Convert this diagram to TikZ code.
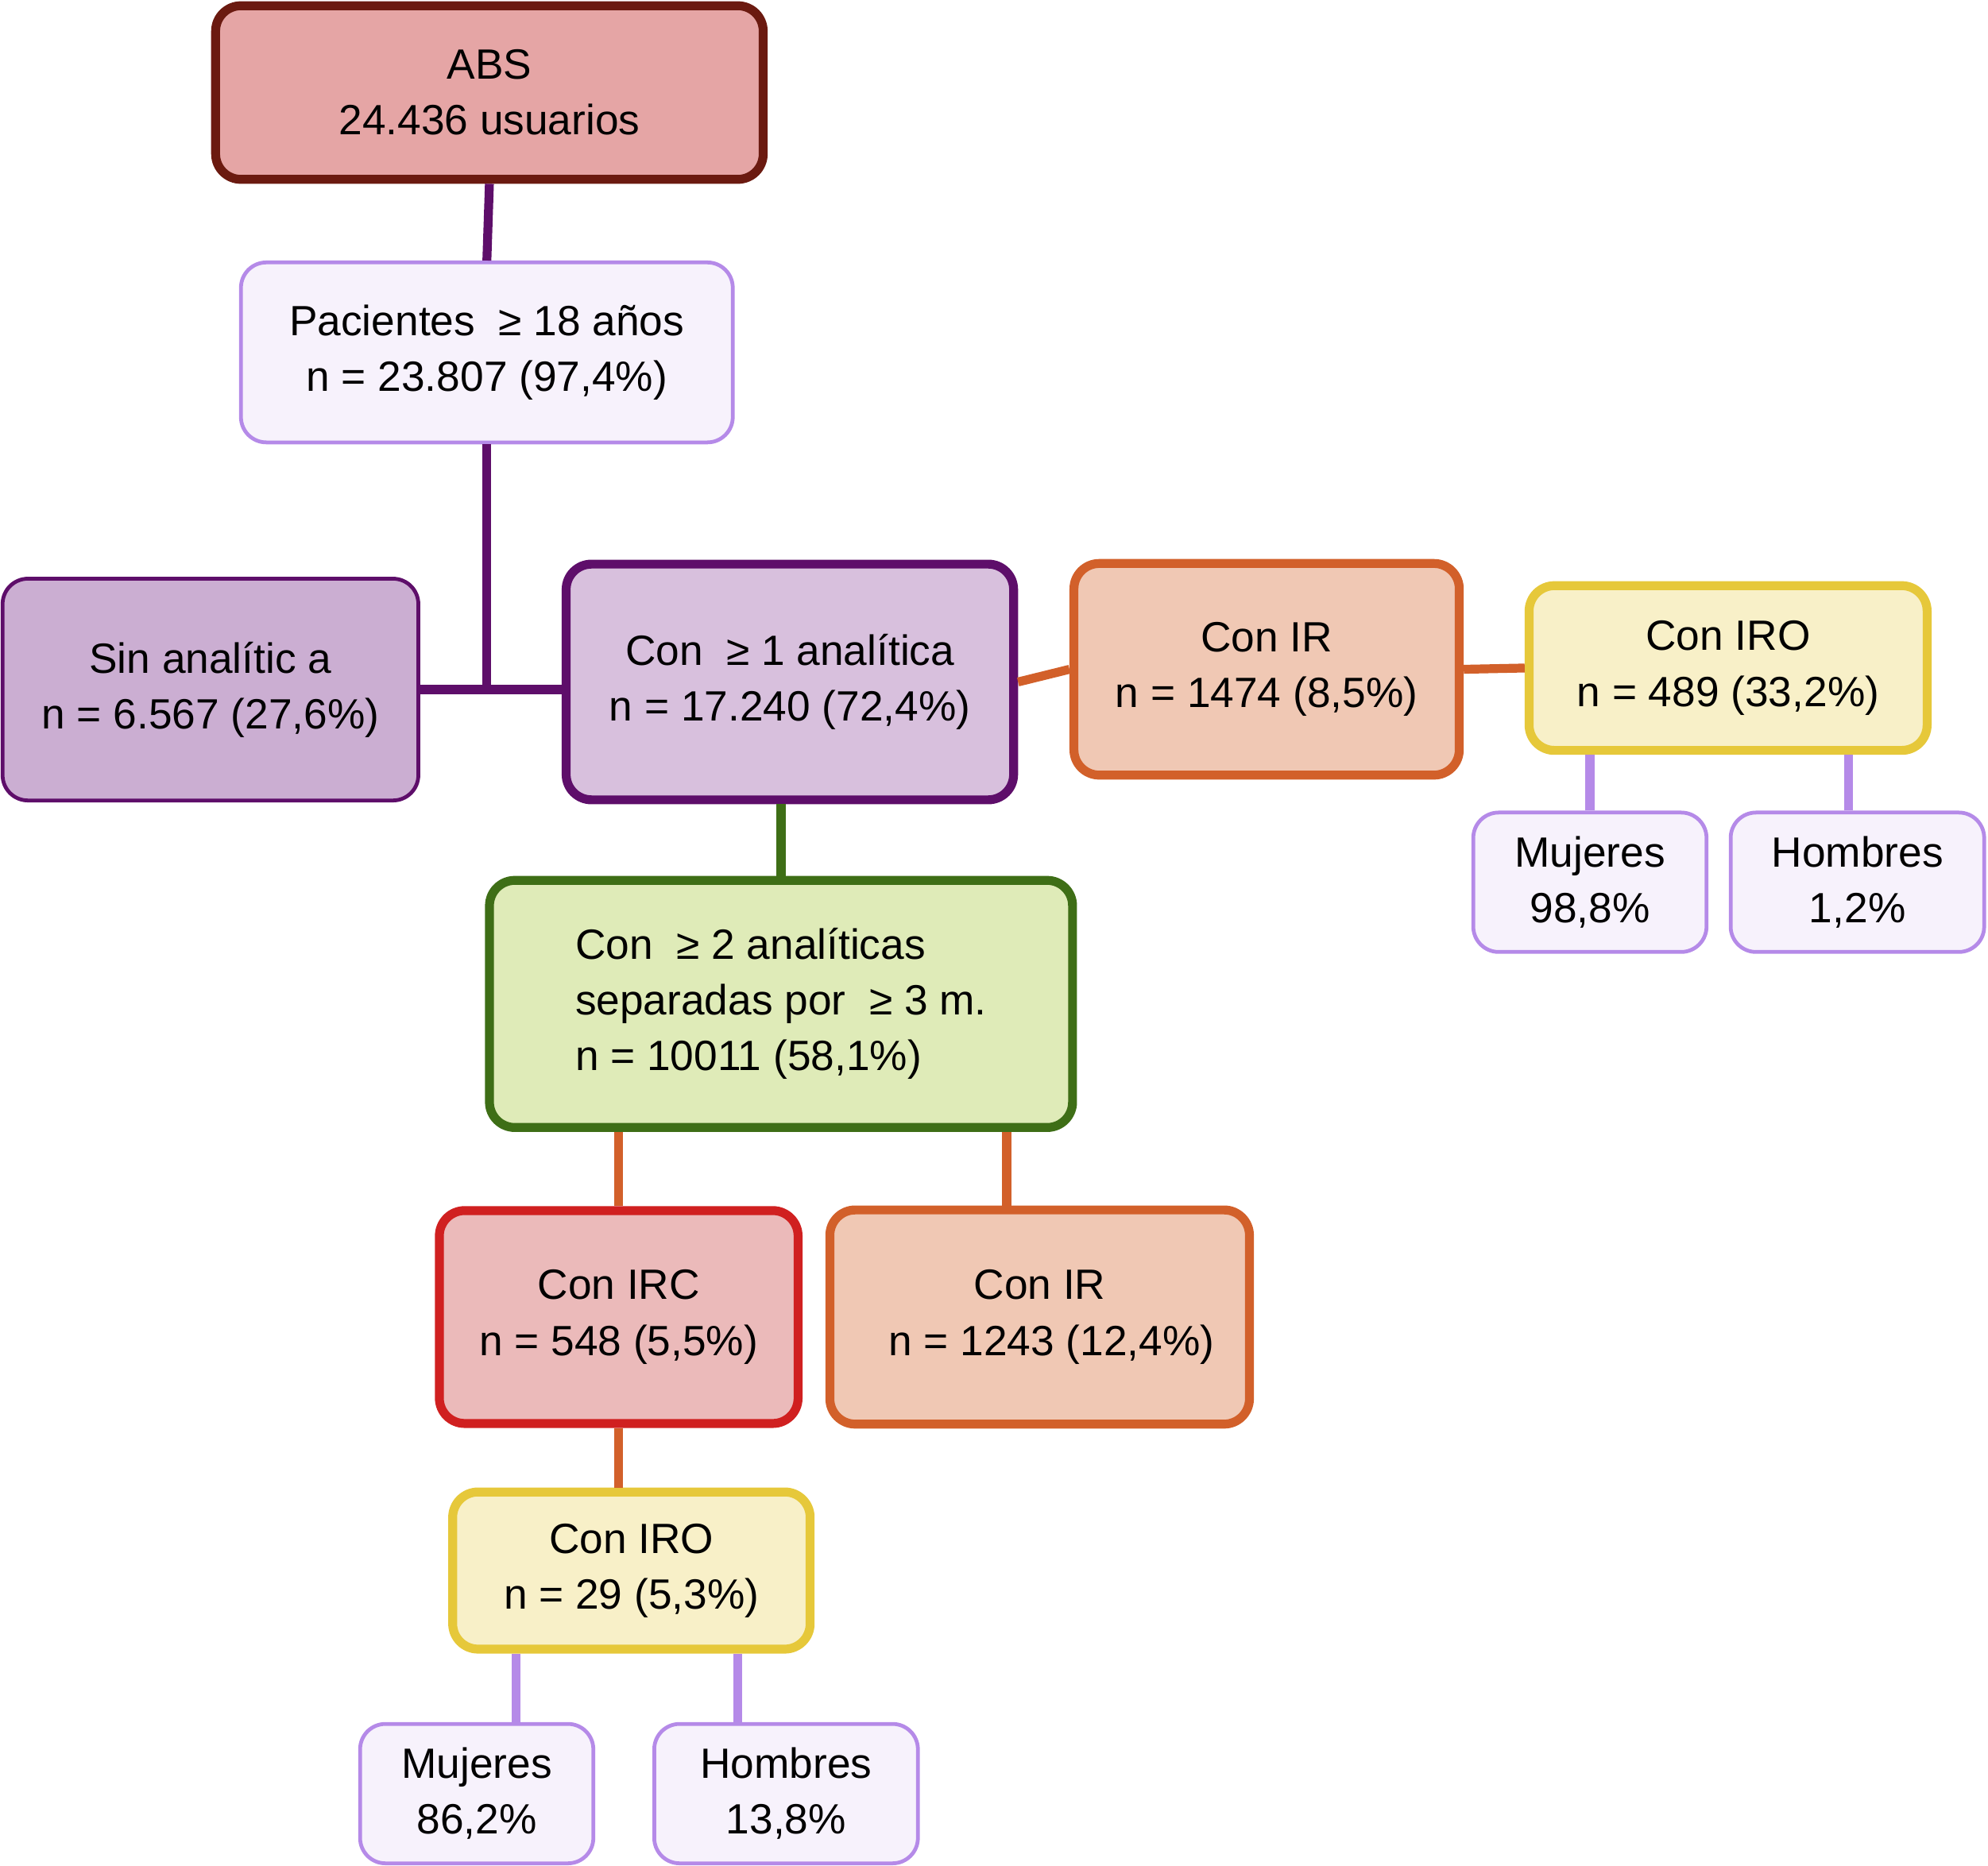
\documentclass[tikz,border=0pt]{standalone}
\usepackage{fontspec}
\setmainfont{Liberation Sans}
\usetikzlibrary{positioning}
\definecolor{absfill}{HTML}{E5A5A5}\definecolor{absline}{HTML}{6B1A10}
\definecolor{lavfill}{HTML}{F7F2FC}\definecolor{lavline}{HTML}{B58AE8}
\definecolor{sinfill}{HTML}{CBAED2}\definecolor{purline}{HTML}{5E0E6A}
\definecolor{unofill}{HTML}{D8C0DD}
\definecolor{irfill}{HTML}{F0C8B4}\definecolor{irline}{HTML}{D2602A}
\definecolor{irofill}{HTML}{F8F0C8}\definecolor{iroline}{HTML}{E6C83A}
\definecolor{dosfill}{HTML}{DFEBB8}\definecolor{dosline}{HTML}{3E6E16}
\definecolor{ircfill}{HTML}{EBBABA}\definecolor{ircline}{HTML}{D02020}
\tikzset{
 box/.style={rectangle, rounded corners=0.4cm, align=center, font=\fontsize{19}{25}\selectfont, inner sep=0pt},
 thickbox/.style={box, line width=4pt},
 thinbox/.style={box, line width=1.7pt},
}
\begin{document}
\begin{tikzpicture}[x=0.02cm, y=-0.02cm]
 \useasboundingbox (0,0) rectangle (1568,1472);
 %Nodes
 \node[thickbox, draw=absline, fill=absfill, minimum width=8.64cm, minimum height=2.74cm] (abs) at (386,73) {ABS\\24.436 usuarios};
 \node[thinbox, draw=lavline, fill=lavfill, minimum width=7.76cm, minimum height=2.84cm] (pac) at (384,278) {Pacientes \ ≥ 18 años\\n = 23.807 (97,4\%)};
 \node[thinbox, draw=purline, fill=sinfill, minimum width=6.56cm, minimum height=3.5cm] (sin) at (166,544) {Sin analític a\\n = 6.567 (27,6\%)};
 \node[thickbox, draw=purline, fill=unofill, minimum width=7.06cm, minimum height=3.72cm] (uno) at (623,538) {Con \ ≥ 1 analítica\\n = 17.240 (72,4\%)};
 \node[thickbox, draw=irline, fill=irfill, minimum width=6.08cm, minimum height=3.34cm] (irtop) at (999,528) {Con IR\\n = 1474 (8,5\%)};
 \node[thickbox, draw=iroline, fill=irofill, minimum width=6.28cm, minimum height=2.6cm] (irotop) at (1363,527) {Con IRO\\n = 489 (33,2\%)};
 \node[thinbox, draw=lavline, fill=lavfill, minimum width=3.68cm, minimum height=2.2cm] (mujtop) at (1254,696) {Mujeres\\98,8\%};
 \node[thinbox, draw=lavline, fill=lavfill, minimum width=4cm, minimum height=2.2cm] (homtop) at (1465,696) {Hombres\\1,2\%};
 \node[thickbox, draw=dosline, fill=dosfill, minimum width=9.2cm, minimum height=3.9cm, align=left] (dos) at (616,792) {Con \ ≥ 2 analíticas\\separadas por \ ≥ 3 m.\\n = 10011 (58,1\%)};
 \node[thickbox, draw=ircline, fill=ircfill, minimum width=5.66cm, minimum height=3.36cm] (irc) at (488,1039) {Con IRC\\n = 548 (5,5\%)};
 \node[thickbox, draw=irline, fill=irfill, minimum width=6.62cm, minimum height=3.38cm] (irbot) at (820,1039) {Con IR\\\ \ n = 1243 (12,4\%)};
 \node[thickbox, draw=iroline, fill=irofill, minimum width=5.64cm, minimum height=2.48cm] (irobot) at (498,1239) {Con IRO\\n = 29 (5,3\%)};
 \node[thinbox, draw=lavline, fill=lavfill, minimum width=3.68cm, minimum height=2.2cm] (mujbot) at (376,1415) {Mujeres\\86,2\%};
 \node[thinbox, draw=lavline, fill=lavfill, minimum width=4.16cm, minimum height=2.2cm] (hombot) at (620,1415) {Hombres\\13,8\%};

 %Lines
 \draw[purline, line width=4pt] (abs.south) -- (pac.north);
 \draw[purline, line width=4pt] (pac.south) -- (pac.south |- sin.east) coordinate (cruce);
 \draw[purline, line width=4pt] (sin.east) -- (sin.east -| uno.west);
 \draw[dosline, line width=4pt] (uno.south -| dos.north) -- (dos.north);
 \draw[irline, line width=4pt] (uno.east) -- (irtop.west);
 \draw[irline, line width=4pt] (irtop.east) -- (irotop.west);
 \draw[lavline, line width=4pt] (irotop.south -| mujtop.north) -- (mujtop.north);
 \draw[lavline, line width=4pt] (irotop.south -| 1458,0) -- (homtop.north -| 1458,0);
 \draw[irline, line width=4pt] (dos.south -| irc.north) -- (irc.north);
 \draw[irline, line width=4pt] (dos.south -| 794,0) -- (irbot.north -| 794,0);
 \draw[irline, line width=4pt] (irc.south) -- (irc.south |- irobot.north);
 \draw[lavline, line width=4pt] (irobot.south -| 407,0) -- (mujbot.north -| 407,0);
 \draw[lavline, line width=4pt] (irobot.south -| 582,0) -- (hombot.north -| 582,0);
\end{tikzpicture}
\end{document}
